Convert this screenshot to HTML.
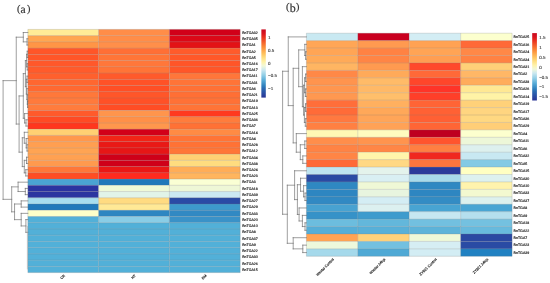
<!DOCTYPE html>
<html><head><meta charset="utf-8"><title>Heatmap</title>
<style>
html,body{margin:0;padding:0;background:#fff;}
body{width:550px;height:283px;overflow:hidden;position:relative;font-family:"Liberation Sans",sans-serif;}
svg{position:absolute;left:0;top:0;display:block;}
svg text{font-family:"Liberation Sans",sans-serif;text-rendering:geometricPrecision;stroke:#222;stroke-width:1.7px;}
svg g.lg text{stroke-width:0.9px;}
svg text.ttl{font-family:"Liberation Serif",serif;stroke:#333;stroke-width:0.18px;}
</style></head><body>
<svg width="550" height="283" viewBox="0 0 550 283">
<defs><linearGradient id="lg" x1="0" y1="0" x2="0" y2="1">
<stop offset="0.000" stop-color="#C90A1F"/>
<stop offset="0.059" stop-color="#D9141F"/>
<stop offset="0.109" stop-color="#E8301F"/>
<stop offset="0.190" stop-color="#F4622C"/>
<stop offset="0.247" stop-color="#FA8636"/>
<stop offset="0.297" stop-color="#FDA247"/>
<stop offset="0.359" stop-color="#FEC35F"/>
<stop offset="0.414" stop-color="#FEDD80"/>
<stop offset="0.476" stop-color="#FFF2A8"/>
<stop offset="0.535" stop-color="#F1F8D8"/>
<stop offset="0.594" stop-color="#CBE8F0"/>
<stop offset="0.673" stop-color="#8FCDE6"/>
<stop offset="0.752" stop-color="#54A9D6"/>
<stop offset="0.829" stop-color="#2F80BD"/>
<stop offset="0.863" stop-color="#2B6CB3"/>
<stop offset="0.932" stop-color="#2A4FA5"/>
<stop offset="1.000" stop-color="#2A3595"/>
</linearGradient></defs>
<rect x="27.85" y="29.40" width="70.78" height="6.24" fill="#FFEC97"/>
<rect x="98.63" y="29.40" width="70.78" height="6.24" fill="#FF8D48"/>
<rect x="169.42" y="29.40" width="70.78" height="6.24" fill="#D10019"/>
<rect x="27.85" y="35.64" width="70.78" height="6.24" fill="#FFA651"/>
<rect x="98.63" y="35.64" width="70.78" height="6.24" fill="#FF8D48"/>
<rect x="169.42" y="35.64" width="70.78" height="6.24" fill="#DC0817"/>
<rect x="27.85" y="41.87" width="70.78" height="6.24" fill="#FF9546"/>
<rect x="98.63" y="41.87" width="70.78" height="6.24" fill="#FF8F4A"/>
<rect x="169.42" y="41.87" width="70.78" height="6.24" fill="#E31216"/>
<rect x="27.85" y="48.11" width="70.78" height="6.24" fill="#FF5628"/>
<rect x="98.63" y="48.11" width="70.78" height="6.24" fill="#FF6F35"/>
<rect x="169.42" y="48.11" width="70.78" height="6.24" fill="#FF5B2B"/>
<rect x="27.85" y="54.34" width="70.78" height="6.24" fill="#FF5628"/>
<rect x="98.63" y="54.34" width="70.78" height="6.24" fill="#FF7537"/>
<rect x="169.42" y="54.34" width="70.78" height="6.24" fill="#FF5829"/>
<rect x="27.85" y="60.58" width="70.78" height="6.24" fill="#FF582A"/>
<rect x="98.63" y="60.58" width="70.78" height="6.24" fill="#FF773A"/>
<rect x="169.42" y="60.58" width="70.78" height="6.24" fill="#FF5528"/>
<rect x="27.85" y="66.82" width="70.78" height="6.24" fill="#FF5B2B"/>
<rect x="98.63" y="66.82" width="70.78" height="6.24" fill="#FF7437"/>
<rect x="169.42" y="66.82" width="70.78" height="6.24" fill="#FF5628"/>
<rect x="27.85" y="73.05" width="70.78" height="6.24" fill="#FF602D"/>
<rect x="98.63" y="73.05" width="70.78" height="6.24" fill="#FF5A2B"/>
<rect x="169.42" y="73.05" width="70.78" height="6.24" fill="#FF763A"/>
<rect x="27.85" y="79.29" width="70.78" height="6.24" fill="#FF6730"/>
<rect x="98.63" y="79.29" width="70.78" height="6.24" fill="#FF5227"/>
<rect x="169.42" y="79.29" width="70.78" height="6.24" fill="#FF7437"/>
<rect x="27.85" y="85.52" width="70.78" height="6.24" fill="#FF6931"/>
<rect x="98.63" y="85.52" width="70.78" height="6.24" fill="#FF4F25"/>
<rect x="169.42" y="85.52" width="70.78" height="6.24" fill="#FF7135"/>
<rect x="27.85" y="91.76" width="70.78" height="6.24" fill="#FF783A"/>
<rect x="98.63" y="91.76" width="70.78" height="6.24" fill="#FF5629"/>
<rect x="169.42" y="91.76" width="70.78" height="6.24" fill="#FF6F35"/>
<rect x="27.85" y="97.99" width="70.78" height="6.24" fill="#FF7A3C"/>
<rect x="98.63" y="97.99" width="70.78" height="6.24" fill="#FF5127"/>
<rect x="169.42" y="97.99" width="70.78" height="6.24" fill="#FF7136"/>
<rect x="27.85" y="104.23" width="70.78" height="6.24" fill="#FF7C3D"/>
<rect x="98.63" y="104.23" width="70.78" height="6.24" fill="#FF4D25"/>
<rect x="169.42" y="104.23" width="70.78" height="6.24" fill="#FF7437"/>
<rect x="27.85" y="110.47" width="70.78" height="6.24" fill="#FF5A2B"/>
<rect x="98.63" y="110.47" width="70.78" height="6.24" fill="#FF954C"/>
<rect x="169.42" y="110.47" width="70.78" height="6.24" fill="#FF391F"/>
<rect x="27.85" y="116.70" width="70.78" height="6.24" fill="#FF4A24"/>
<rect x="98.63" y="116.70" width="70.78" height="6.24" fill="#FF9048"/>
<rect x="169.42" y="116.70" width="70.78" height="6.24" fill="#FF7C3C"/>
<rect x="27.85" y="122.94" width="70.78" height="6.24" fill="#FF361E"/>
<rect x="98.63" y="122.94" width="70.78" height="6.24" fill="#FF974D"/>
<rect x="169.42" y="122.94" width="70.78" height="6.24" fill="#FF7135"/>
<rect x="27.85" y="129.17" width="70.78" height="6.24" fill="#FFD073"/>
<rect x="98.63" y="129.17" width="70.78" height="6.24" fill="#D20019"/>
<rect x="169.42" y="129.17" width="70.78" height="6.24" fill="#FF8B44"/>
<rect x="27.85" y="135.41" width="70.78" height="6.24" fill="#FF984D"/>
<rect x="98.63" y="135.41" width="70.78" height="6.24" fill="#F22416"/>
<rect x="169.42" y="135.41" width="70.78" height="6.24" fill="#FF7436"/>
<rect x="27.85" y="141.65" width="70.78" height="6.24" fill="#FF9F51"/>
<rect x="98.63" y="141.65" width="70.78" height="6.24" fill="#E91916"/>
<rect x="169.42" y="141.65" width="70.78" height="6.24" fill="#FF7235"/>
<rect x="27.85" y="147.88" width="70.78" height="6.24" fill="#FFA453"/>
<rect x="98.63" y="147.88" width="70.78" height="6.24" fill="#E61616"/>
<rect x="169.42" y="147.88" width="70.78" height="6.24" fill="#FF7637"/>
<rect x="27.85" y="154.12" width="70.78" height="6.24" fill="#FFA152"/>
<rect x="98.63" y="154.12" width="70.78" height="6.24" fill="#CE0019"/>
<rect x="169.42" y="154.12" width="70.78" height="6.24" fill="#FFD073"/>
<rect x="27.85" y="160.35" width="70.78" height="6.24" fill="#FF9A4E"/>
<rect x="98.63" y="160.35" width="70.78" height="6.24" fill="#CF0019"/>
<rect x="169.42" y="160.35" width="70.78" height="6.24" fill="#FFDC7F"/>
<rect x="27.85" y="166.59" width="70.78" height="6.24" fill="#FF7739"/>
<rect x="98.63" y="166.59" width="70.78" height="6.24" fill="#EA1816"/>
<rect x="169.42" y="166.59" width="70.78" height="6.24" fill="#FFAD57"/>
<rect x="27.85" y="172.83" width="70.78" height="6.24" fill="#FF4D24"/>
<rect x="98.63" y="172.83" width="70.78" height="6.24" fill="#FF2B1F"/>
<rect x="169.42" y="172.83" width="70.78" height="6.24" fill="#FFB55E"/>
<rect x="27.85" y="179.06" width="70.78" height="6.24" fill="#4AA3D2"/>
<rect x="98.63" y="179.06" width="70.78" height="6.24" fill="#2078BA"/>
<rect x="169.42" y="179.06" width="70.78" height="6.24" fill="#FAFFD4"/>
<rect x="27.85" y="185.30" width="70.78" height="6.24" fill="#2B33A0"/>
<rect x="98.63" y="185.30" width="70.78" height="6.24" fill="#EFF9D6"/>
<rect x="169.42" y="185.30" width="70.78" height="6.24" fill="#EEF7D6"/>
<rect x="27.85" y="191.53" width="70.78" height="6.24" fill="#2B36A0"/>
<rect x="98.63" y="191.53" width="70.78" height="6.24" fill="#E1F4E8"/>
<rect x="169.42" y="191.53" width="70.78" height="6.24" fill="#CBE9F2"/>
<rect x="27.85" y="197.77" width="70.78" height="6.24" fill="#A6DEEF"/>
<rect x="98.63" y="197.77" width="70.78" height="6.24" fill="#FFDB81"/>
<rect x="169.42" y="197.77" width="70.78" height="6.24" fill="#2A4BA5"/>
<rect x="27.85" y="204.01" width="70.78" height="6.24" fill="#207ABB"/>
<rect x="98.63" y="204.01" width="70.78" height="6.24" fill="#FFE996"/>
<rect x="169.42" y="204.01" width="70.78" height="6.24" fill="#3D9ACC"/>
<rect x="27.85" y="210.24" width="70.78" height="6.24" fill="#FDFFC9"/>
<rect x="98.63" y="210.24" width="70.78" height="6.24" fill="#2E86C1"/>
<rect x="169.42" y="210.24" width="70.78" height="6.24" fill="#3189C3"/>
<rect x="27.85" y="216.48" width="70.78" height="6.24" fill="#52B0D8"/>
<rect x="98.63" y="216.48" width="70.78" height="6.24" fill="#8ACDE6"/>
<rect x="169.42" y="216.48" width="70.78" height="6.24" fill="#3A92C8"/>
<rect x="27.85" y="222.71" width="70.78" height="6.24" fill="#52B0D8"/>
<rect x="98.63" y="222.71" width="70.78" height="6.24" fill="#52B0D8"/>
<rect x="169.42" y="222.71" width="70.78" height="6.24" fill="#52B0D8"/>
<rect x="27.85" y="228.95" width="70.78" height="6.24" fill="#52B0D8"/>
<rect x="98.63" y="228.95" width="70.78" height="6.24" fill="#52B0D8"/>
<rect x="169.42" y="228.95" width="70.78" height="6.24" fill="#52B0D8"/>
<rect x="27.85" y="235.18" width="70.78" height="6.24" fill="#52B0D8"/>
<rect x="98.63" y="235.18" width="70.78" height="6.24" fill="#52B0D8"/>
<rect x="169.42" y="235.18" width="70.78" height="6.24" fill="#52B0D8"/>
<rect x="27.85" y="241.42" width="70.78" height="6.24" fill="#52B0D8"/>
<rect x="98.63" y="241.42" width="70.78" height="6.24" fill="#52B0D8"/>
<rect x="169.42" y="241.42" width="70.78" height="6.24" fill="#52B0D8"/>
<rect x="27.85" y="247.66" width="70.78" height="6.24" fill="#52B0D8"/>
<rect x="98.63" y="247.66" width="70.78" height="6.24" fill="#52B0D8"/>
<rect x="169.42" y="247.66" width="70.78" height="6.24" fill="#52B0D8"/>
<rect x="27.85" y="253.89" width="70.78" height="6.24" fill="#52B0D8"/>
<rect x="98.63" y="253.89" width="70.78" height="6.24" fill="#52B0D8"/>
<rect x="169.42" y="253.89" width="70.78" height="6.24" fill="#52B0D8"/>
<rect x="27.85" y="260.13" width="70.78" height="6.24" fill="#52B0D8"/>
<rect x="98.63" y="260.13" width="70.78" height="6.24" fill="#52B0D8"/>
<rect x="169.42" y="260.13" width="70.78" height="6.24" fill="#52B0D8"/>
<rect x="27.85" y="266.36" width="70.78" height="6.24" fill="#52B0D8"/>
<rect x="98.63" y="266.36" width="70.78" height="6.24" fill="#52B0D8"/>
<rect x="169.42" y="266.36" width="70.78" height="6.24" fill="#52B0D8"/>
<path d="M27.85 29.40H240.20M27.85 35.64H240.20M27.85 41.87H240.20M27.85 48.11H240.20M27.85 54.34H240.20M27.85 60.58H240.20M27.85 66.82H240.20M27.85 73.05H240.20M27.85 79.29H240.20M27.85 85.52H240.20M27.85 91.76H240.20M27.85 97.99H240.20M27.85 104.23H240.20M27.85 110.47H240.20M27.85 116.70H240.20M27.85 122.94H240.20M27.85 129.17H240.20M27.85 135.41H240.20M27.85 141.65H240.20M27.85 147.88H240.20M27.85 154.12H240.20M27.85 160.35H240.20M27.85 166.59H240.20M27.85 172.83H240.20M27.85 179.06H240.20M27.85 185.30H240.20M27.85 191.53H240.20M27.85 197.77H240.20M27.85 204.01H240.20M27.85 210.24H240.20M27.85 216.48H240.20M27.85 222.71H240.20M27.85 228.95H240.20M27.85 235.18H240.20M27.85 241.42H240.20M27.85 247.66H240.20M27.85 253.89H240.20M27.85 260.13H240.20M27.85 266.36H240.20M27.85 272.60H240.20M27.85 29.40V272.60M98.63 29.40V272.60M169.42 29.40V272.60M240.20 29.40V272.60" fill="none" stroke="#7d7d7d" stroke-width="0.24"/>
<rect x="306.40" y="33.20" width="51.43" height="7.44" fill="#C9E9F2"/>
<rect x="357.82" y="33.20" width="51.43" height="7.44" fill="#C9001F"/>
<rect x="409.25" y="33.20" width="51.43" height="7.44" fill="#D3EDF4"/>
<rect x="460.68" y="33.20" width="51.43" height="7.44" fill="#FCFFCE"/>
<rect x="306.40" y="40.64" width="51.43" height="7.44" fill="#FFA656"/>
<rect x="357.82" y="40.64" width="51.43" height="7.44" fill="#FF9A50"/>
<rect x="409.25" y="40.64" width="51.43" height="7.44" fill="#FFA253"/>
<rect x="460.68" y="40.64" width="51.43" height="7.44" fill="#FF6938"/>
<rect x="306.40" y="48.07" width="51.43" height="7.44" fill="#FFA555"/>
<rect x="357.82" y="48.07" width="51.43" height="7.44" fill="#FF8243"/>
<rect x="409.25" y="48.07" width="51.43" height="7.44" fill="#FFA455"/>
<rect x="460.68" y="48.07" width="51.43" height="7.44" fill="#FF8847"/>
<rect x="306.40" y="55.51" width="51.43" height="7.44" fill="#FFAA58"/>
<rect x="357.82" y="55.51" width="51.43" height="7.44" fill="#FF8545"/>
<rect x="409.25" y="55.51" width="51.43" height="7.44" fill="#FF9E52"/>
<rect x="460.68" y="55.51" width="51.43" height="7.44" fill="#FF8243"/>
<rect x="306.40" y="62.95" width="51.43" height="7.44" fill="#FFB562"/>
<rect x="357.82" y="62.95" width="51.43" height="7.44" fill="#FF9A50"/>
<rect x="409.25" y="62.95" width="51.43" height="7.44" fill="#FF492B"/>
<rect x="460.68" y="62.95" width="51.43" height="7.44" fill="#FFD078"/>
<rect x="306.40" y="70.38" width="51.43" height="7.44" fill="#FF8847"/>
<rect x="357.82" y="70.38" width="51.43" height="7.44" fill="#FFAA59"/>
<rect x="409.25" y="70.38" width="51.43" height="7.44" fill="#FF6938"/>
<rect x="460.68" y="70.38" width="51.43" height="7.44" fill="#FFB766"/>
<rect x="306.40" y="77.82" width="51.43" height="7.44" fill="#FF944E"/>
<rect x="357.82" y="77.82" width="51.43" height="7.44" fill="#FFBB68"/>
<rect x="409.25" y="77.82" width="51.43" height="7.44" fill="#FF462A"/>
<rect x="460.68" y="77.82" width="51.43" height="7.44" fill="#FFAC5B"/>
<rect x="306.40" y="85.26" width="51.43" height="7.44" fill="#FF964F"/>
<rect x="357.82" y="85.26" width="51.43" height="7.44" fill="#FFB967"/>
<rect x="409.25" y="85.26" width="51.43" height="7.44" fill="#FF3428"/>
<rect x="460.68" y="85.26" width="51.43" height="7.44" fill="#FFE893"/>
<rect x="306.40" y="92.69" width="51.43" height="7.44" fill="#FF9850"/>
<rect x="357.82" y="92.69" width="51.43" height="7.44" fill="#FFBF6B"/>
<rect x="409.25" y="92.69" width="51.43" height="7.44" fill="#FF3F29"/>
<rect x="460.68" y="92.69" width="51.43" height="7.44" fill="#FFF3A6"/>
<rect x="306.40" y="100.13" width="51.43" height="7.44" fill="#FF6E3A"/>
<rect x="357.82" y="100.13" width="51.43" height="7.44" fill="#FFB05F"/>
<rect x="409.25" y="100.13" width="51.43" height="7.44" fill="#FF6435"/>
<rect x="460.68" y="100.13" width="51.43" height="7.44" fill="#FFD179"/>
<rect x="306.40" y="107.57" width="51.43" height="7.44" fill="#FF6B38"/>
<rect x="357.82" y="107.57" width="51.43" height="7.44" fill="#FFA859"/>
<rect x="409.25" y="107.57" width="51.43" height="7.44" fill="#FF6134"/>
<rect x="460.68" y="107.57" width="51.43" height="7.44" fill="#FFD580"/>
<rect x="306.40" y="115.00" width="51.43" height="7.44" fill="#FF7940"/>
<rect x="357.82" y="115.00" width="51.43" height="7.44" fill="#FFA558"/>
<rect x="409.25" y="115.00" width="51.43" height="7.44" fill="#FF6034"/>
<rect x="460.68" y="115.00" width="51.43" height="7.44" fill="#FFD881"/>
<rect x="306.40" y="122.44" width="51.43" height="7.44" fill="#FF8042"/>
<rect x="357.82" y="122.44" width="51.43" height="7.44" fill="#FFA256"/>
<rect x="409.25" y="122.44" width="51.43" height="7.44" fill="#FF6535"/>
<rect x="460.68" y="122.44" width="51.43" height="7.44" fill="#FFCE77"/>
<rect x="306.40" y="129.88" width="51.43" height="7.44" fill="#FFF8B4"/>
<rect x="357.82" y="129.88" width="51.43" height="7.44" fill="#FFFBBF"/>
<rect x="409.25" y="129.88" width="51.43" height="7.44" fill="#BE0020"/>
<rect x="460.68" y="129.88" width="51.43" height="7.44" fill="#FCFFCE"/>
<rect x="306.40" y="137.31" width="51.43" height="7.44" fill="#FF8E4B"/>
<rect x="357.82" y="137.31" width="51.43" height="7.44" fill="#FF944E"/>
<rect x="409.25" y="137.31" width="51.43" height="7.44" fill="#FF542E"/>
<rect x="460.68" y="137.31" width="51.43" height="7.44" fill="#EDF7D8"/>
<rect x="306.40" y="144.75" width="51.43" height="7.44" fill="#FF8344"/>
<rect x="357.82" y="144.75" width="51.43" height="7.44" fill="#FF8646"/>
<rect x="409.25" y="144.75" width="51.43" height="7.44" fill="#FF7F42"/>
<rect x="460.68" y="144.75" width="51.43" height="7.44" fill="#DDF0EE"/>
<rect x="306.40" y="152.19" width="51.43" height="7.44" fill="#FF8545"/>
<rect x="357.82" y="152.19" width="51.43" height="7.44" fill="#FFF4AB"/>
<rect x="409.25" y="152.19" width="51.43" height="7.44" fill="#F0281F"/>
<rect x="460.68" y="152.19" width="51.43" height="7.44" fill="#C8E8F2"/>
<rect x="306.40" y="159.62" width="51.43" height="7.44" fill="#FF6937"/>
<rect x="357.82" y="159.62" width="51.43" height="7.44" fill="#FFD884"/>
<rect x="409.25" y="159.62" width="51.43" height="7.44" fill="#FF753E"/>
<rect x="460.68" y="159.62" width="51.43" height="7.44" fill="#84CAE4"/>
<rect x="306.40" y="167.06" width="51.43" height="7.44" fill="#BFE4F0"/>
<rect x="357.82" y="167.06" width="51.43" height="7.44" fill="#E4F3EC"/>
<rect x="409.25" y="167.06" width="51.43" height="7.44" fill="#2B3B9B"/>
<rect x="460.68" y="167.06" width="51.43" height="7.44" fill="#FFFFC2"/>
<rect x="306.40" y="174.50" width="51.43" height="7.44" fill="#2B4AA3"/>
<rect x="357.82" y="174.50" width="51.43" height="7.44" fill="#D9EFF3"/>
<rect x="409.25" y="174.50" width="51.43" height="7.44" fill="#A8DAEB"/>
<rect x="460.68" y="174.50" width="51.43" height="7.44" fill="#DDF1EF"/>
<rect x="306.40" y="181.93" width="51.43" height="7.44" fill="#2F88C2"/>
<rect x="357.82" y="181.93" width="51.43" height="7.44" fill="#EFF8D6"/>
<rect x="409.25" y="181.93" width="51.43" height="7.44" fill="#2F88C2"/>
<rect x="460.68" y="181.93" width="51.43" height="7.44" fill="#FFF3AD"/>
<rect x="306.40" y="189.37" width="51.43" height="7.44" fill="#2E86C1"/>
<rect x="357.82" y="189.37" width="51.43" height="7.44" fill="#E8F5DF"/>
<rect x="409.25" y="189.37" width="51.43" height="7.44" fill="#2E86C1"/>
<rect x="460.68" y="189.37" width="51.43" height="7.44" fill="#F3F9D0"/>
<rect x="306.40" y="196.81" width="51.43" height="7.44" fill="#3189C3"/>
<rect x="357.82" y="196.81" width="51.43" height="7.44" fill="#D4EDF4"/>
<rect x="409.25" y="196.81" width="51.43" height="7.44" fill="#338CC4"/>
<rect x="460.68" y="196.81" width="51.43" height="7.44" fill="#DDF1EE"/>
<rect x="306.40" y="204.24" width="51.43" height="7.44" fill="#48A2D1"/>
<rect x="357.82" y="204.24" width="51.43" height="7.44" fill="#DCF0F0"/>
<rect x="409.25" y="204.24" width="51.43" height="7.44" fill="#48A4D2"/>
<rect x="460.68" y="204.24" width="51.43" height="7.44" fill="#4AA5D3"/>
<rect x="306.40" y="211.68" width="51.43" height="7.44" fill="#3692C8"/>
<rect x="357.82" y="211.68" width="51.43" height="7.44" fill="#3E9BCD"/>
<rect x="409.25" y="211.68" width="51.43" height="7.44" fill="#C6E7F1"/>
<rect x="460.68" y="211.68" width="51.43" height="7.44" fill="#B5DFEE"/>
<rect x="306.40" y="219.12" width="51.43" height="7.44" fill="#6CBDDE"/>
<rect x="357.82" y="219.12" width="51.43" height="7.44" fill="#63B7DB"/>
<rect x="409.25" y="219.12" width="51.43" height="7.44" fill="#72C0E0"/>
<rect x="460.68" y="219.12" width="51.43" height="7.44" fill="#74C1E0"/>
<rect x="306.40" y="226.55" width="51.43" height="7.44" fill="#55AED7"/>
<rect x="357.82" y="226.55" width="51.43" height="7.44" fill="#58B0D8"/>
<rect x="409.25" y="226.55" width="51.43" height="7.44" fill="#5DB3D9"/>
<rect x="460.68" y="226.55" width="51.43" height="7.44" fill="#68BADD"/>
<rect x="306.40" y="233.99" width="51.43" height="7.44" fill="#FFA354"/>
<rect x="357.82" y="233.99" width="51.43" height="7.44" fill="#FFD27B"/>
<rect x="409.25" y="233.99" width="51.43" height="7.44" fill="#EEF8D8"/>
<rect x="460.68" y="233.99" width="51.43" height="7.44" fill="#2A48A2"/>
<rect x="306.40" y="241.43" width="51.43" height="7.44" fill="#EDF8DC"/>
<rect x="357.82" y="241.43" width="51.43" height="7.44" fill="#73C0E0"/>
<rect x="409.25" y="241.43" width="51.43" height="7.44" fill="#D6EEF3"/>
<rect x="460.68" y="241.43" width="51.43" height="7.44" fill="#2A4BA4"/>
<rect x="306.40" y="248.86" width="51.43" height="7.44" fill="#A5D9EB"/>
<rect x="357.82" y="248.86" width="51.43" height="7.44" fill="#4FA9D5"/>
<rect x="409.25" y="248.86" width="51.43" height="7.44" fill="#D3EDF4"/>
<rect x="460.68" y="248.86" width="51.43" height="7.44" fill="#2081C2"/>
<path d="M306.40 33.20H512.10M306.40 40.64H512.10M306.40 48.07H512.10M306.40 55.51H512.10M306.40 62.95H512.10M306.40 70.38H512.10M306.40 77.82H512.10M306.40 85.26H512.10M306.40 92.69H512.10M306.40 100.13H512.10M306.40 107.57H512.10M306.40 115.00H512.10M306.40 122.44H512.10M306.40 129.88H512.10M306.40 137.31H512.10M306.40 144.75H512.10M306.40 152.19H512.10M306.40 159.62H512.10M306.40 167.06H512.10M306.40 174.50H512.10M306.40 181.93H512.10M306.40 189.37H512.10M306.40 196.81H512.10M306.40 204.24H512.10M306.40 211.68H512.10M306.40 219.12H512.10M306.40 226.55H512.10M306.40 233.99H512.10M306.40 241.43H512.10M306.40 248.86H512.10M306.40 256.30H512.10M306.40 33.20V256.30M357.82 33.20V256.30M409.25 33.20V256.30M460.68 33.20V256.30M512.10 33.20V256.30" fill="none" stroke="#7d7d7d" stroke-width="0.24"/>
<path d="M27.00 38.75L27.85 38.75M27.00 44.99L27.85 44.99M27.00 38.75L27.00 44.99M23.30 32.52L27.85 32.52M23.30 41.87L27.00 41.87M23.30 32.52L23.30 41.87M27.20 51.23L27.85 51.23M27.20 57.46L27.85 57.46M27.20 51.23L27.20 57.46M27.20 63.70L27.85 63.70M27.20 69.93L27.85 69.93M27.20 63.70L27.20 69.93M26.60 54.34L27.20 54.34M26.60 66.82L27.20 66.82M26.60 54.34L26.60 66.82M27.00 76.17L27.85 76.17M27.00 82.41L27.85 82.41M27.00 76.17L27.00 82.41M27.50 101.11L27.85 101.11M27.50 107.35L27.85 107.35M27.50 101.11L27.50 107.35M27.30 94.88L27.85 94.88M27.30 104.23L27.50 104.23M27.30 94.88L27.30 104.23M26.90 88.64L27.85 88.64M26.90 99.55L27.30 99.55M26.90 88.64L26.90 99.55M26.30 79.29L27.00 79.29M26.30 94.10L26.90 94.10M26.30 79.29L26.30 94.10M25.40 60.58L26.60 60.58M25.40 86.69L26.30 86.69M25.40 60.58L25.40 86.69M26.00 119.82L27.85 119.82M26.00 126.06L27.85 126.06M26.00 119.82L26.00 126.06M24.60 113.58L27.85 113.58M24.60 122.94L26.00 122.94M24.60 113.58L24.60 122.94M23.30 73.64L25.40 73.64M23.30 118.26L24.60 118.26M23.30 73.64L23.30 118.26M27.00 144.76L27.85 144.76M27.00 151.00L27.85 151.00M27.00 144.76L27.00 151.00M26.20 138.53L27.85 138.53M26.20 147.88L27.00 147.88M26.20 138.53L26.20 147.88M24.30 132.29L27.85 132.29M24.30 143.21L26.20 143.21M24.30 132.29L24.30 143.21M26.50 157.24L27.85 157.24M26.50 163.47L27.85 163.47M26.50 157.24L26.50 163.47M25.80 169.71L27.85 169.71M25.80 175.94L27.85 175.94M25.80 169.71L25.80 175.94M24.30 160.35L26.50 160.35M24.30 172.83L25.80 172.83M24.30 160.35L24.30 172.83M22.30 137.75L24.30 137.75M22.30 166.59L24.30 166.59M22.30 137.75L22.30 166.59M19.10 95.95L23.30 95.95M19.10 152.17L22.30 152.17M19.10 95.95L19.10 152.17M16.25 37.19L23.30 37.19M16.25 124.06L19.10 124.06M16.25 37.19L16.25 124.06M25.30 188.42L27.85 188.42M25.30 194.65L27.85 194.65M25.30 188.42L25.30 194.65M18.10 182.18L27.85 182.18M18.10 191.53L25.30 191.53M18.10 182.18L18.10 191.53M21.20 200.89L27.85 200.89M21.20 207.12L27.85 207.12M21.20 200.89L21.20 207.12M25.90 219.59L27.85 219.59M25.90 232.30L27.85 232.30M25.90 219.59L25.90 232.30M21.20 213.36L27.85 213.36M21.20 225.95L25.90 225.95M21.20 213.36L21.20 225.95M14.55 204.01L21.20 204.01M14.55 219.65L21.20 219.65M14.55 204.01L14.55 219.65M11.70 186.86L18.10 186.86M11.70 211.83L14.55 211.83M11.70 186.86L11.70 211.83M3.10 80.63L16.25 80.63M3.10 199.34L11.70 199.34M3.10 80.63L3.10 199.34" fill="none" stroke="#6a6a6a" stroke-width="0.65" stroke-linecap="square"/>
<path d="M27.35 226.1V269.4" fill="none" stroke="#9a9a9a" stroke-width="0.5"/>
<path d="M305.60 51.79L306.40 51.79M305.60 59.23L306.40 59.23M305.60 51.79L305.60 59.23M304.80 44.36L306.40 44.36M304.80 55.51L305.60 55.51M304.80 44.36L304.80 55.51M305.60 74.10L306.40 74.10M305.60 81.54L306.40 81.54M305.60 74.10L305.60 81.54M305.40 88.98L306.40 88.98M305.40 96.41L306.40 96.41M305.40 88.98L305.40 96.41M304.60 77.82L305.60 77.82M304.60 92.69L305.40 92.69M304.60 77.82L304.60 92.69M305.50 103.85L306.40 103.85M305.50 111.29L306.40 111.29M305.50 103.85L305.50 111.29M305.30 118.72L306.40 118.72M305.30 126.16L306.40 126.16M305.30 118.72L305.30 126.16M304.40 107.57L305.50 107.57M304.40 122.44L305.30 122.44M304.40 107.57L304.40 122.44M303.60 85.26L304.60 85.26M303.60 115.00L304.40 115.00M303.60 85.26L303.60 115.00M302.40 66.67L306.40 66.67M302.40 106.70L303.60 106.70M302.40 66.67L302.40 106.70M298.70 49.93L304.80 49.93M298.70 86.68L302.40 86.68M298.70 49.93L298.70 86.68M304.80 141.03L306.40 141.03M304.80 148.47L306.40 148.47M304.80 141.03L304.80 148.47M302.80 155.91L306.40 155.91M302.80 163.34L306.40 163.34M302.80 155.91L302.80 163.34M300.30 144.75L304.80 144.75M300.30 159.62L302.80 159.62M300.30 144.75L300.30 159.62M296.30 133.60L306.40 133.60M296.30 152.19L300.30 152.19M296.30 133.60L296.30 152.19M293.20 68.31L298.70 68.31M293.20 142.89L296.30 142.89M293.20 68.31L293.20 142.89M288.25 36.92L306.40 36.92M288.25 105.60L293.20 105.60M288.25 36.92L288.25 105.60M305.00 193.09L306.40 193.09M305.00 200.53L306.40 200.53M305.00 193.09L305.00 200.53M303.60 185.65L306.40 185.65M303.60 196.81L305.00 196.81M303.60 185.65L303.60 196.81M300.55 178.22L306.40 178.22M300.55 191.23L303.60 191.23M300.55 178.22L300.55 191.23M305.00 222.84L306.40 222.84M305.00 230.27L306.40 230.27M305.00 222.84L305.00 230.27M302.40 215.40L306.40 215.40M302.40 226.55L305.00 226.55M302.40 215.40L302.40 226.55M299.10 207.96L306.40 207.96M299.10 220.98L302.40 220.98M299.10 207.96L299.10 220.98M297.40 184.72L300.55 184.72M297.40 214.47L299.10 214.47M297.40 184.72L297.40 214.47M294.60 170.78L306.40 170.78M294.60 199.60L297.40 199.60M294.60 170.78L294.60 199.60M302.80 245.15L306.40 245.15M302.80 252.58L306.40 252.58M302.80 245.15L302.80 252.58M293.20 237.71L306.40 237.71M293.20 248.86L302.80 248.86M293.20 237.71L293.20 248.86M287.30 185.19L294.60 185.19M287.30 243.29L293.20 243.29M287.30 185.19L287.30 243.29M282.60 71.26L288.25 71.26M282.60 214.24L287.30 214.24M282.60 71.26L282.60 214.24" fill="none" stroke="#6a6a6a" stroke-width="0.65" stroke-linecap="square"/>
<g class="t" font-size="35.6" fill="#2c2c2c">
<text transform="translate(242.2 33.80) scale(0.1)">BnTGA32</text>
<text transform="translate(242.2 40.04) scale(0.1)">BnTGA35</text>
<text transform="translate(242.2 46.27) scale(0.1)">BnTGA1</text>
<text transform="translate(242.2 52.51) scale(0.1)">BnTGA2</text>
<text transform="translate(242.2 58.74) scale(0.1)">BnTGA5</text>
<text transform="translate(242.2 64.98) scale(0.1)">BnTGA16</text>
<text transform="translate(242.2 71.21) scale(0.1)">BnTGA17</text>
<text transform="translate(242.2 77.45) scale(0.1)">BnTGA11</text>
<text transform="translate(242.2 83.69) scale(0.1)">BnTGA31</text>
<text transform="translate(242.2 89.92) scale(0.1)">BnTGA6</text>
<text transform="translate(242.2 96.16) scale(0.1)">BnTGA21</text>
<text transform="translate(242.2 102.39) scale(0.1)">BnTGA19</text>
<text transform="translate(242.2 108.63) scale(0.1)">BnTGA13</text>
<text transform="translate(242.2 114.87) scale(0.1)">BnTGA25</text>
<text transform="translate(242.2 121.10) scale(0.1)">BnTGA36</text>
<text transform="translate(242.2 127.34) scale(0.1)">BnTGA7</text>
<text transform="translate(242.2 133.57) scale(0.1)">BnTGA14</text>
<text transform="translate(242.2 139.81) scale(0.1)">BnTGA4</text>
<text transform="translate(242.2 146.05) scale(0.1)">BnTGA28</text>
<text transform="translate(242.2 152.28) scale(0.1)">BnTGA12</text>
<text transform="translate(242.2 158.52) scale(0.1)">BnTGA34</text>
<text transform="translate(242.2 164.75) scale(0.1)">BnTGA38</text>
<text transform="translate(242.2 170.99) scale(0.1)">BnTGA24</text>
<text transform="translate(242.2 177.23) scale(0.1)">BnTGA23</text>
<text transform="translate(242.2 183.46) scale(0.1)">BnTGA3</text>
<text transform="translate(242.2 189.70) scale(0.1)">BnTGA18</text>
<text transform="translate(242.2 195.93) scale(0.1)">BnTGA39</text>
<text transform="translate(242.2 202.17) scale(0.1)">BnTGA27</text>
<text transform="translate(242.2 208.40) scale(0.1)">BnTGA29</text>
<text transform="translate(242.2 214.64) scale(0.1)">BnTGA33</text>
<text transform="translate(242.2 220.88) scale(0.1)">BnTGA20</text>
<text transform="translate(242.2 227.11) scale(0.1)">BnTGA10</text>
<text transform="translate(242.2 233.35) scale(0.1)">BnTGA8</text>
<text transform="translate(242.2 239.58) scale(0.1)">BnTGA37</text>
<text transform="translate(242.2 245.82) scale(0.1)">BnTGA9</text>
<text transform="translate(242.2 252.06) scale(0.1)">BnTGA22</text>
<text transform="translate(242.2 258.29) scale(0.1)">BnTGA30</text>
<text transform="translate(242.2 264.53) scale(0.1)">BnTGA26</text>
<text transform="translate(242.2 270.76) scale(0.1)">BnTGA15</text>
</g>
<g class="t" font-size="35.6" fill="#2c2c2c">
<text transform="translate(513.6 38.20) scale(0.1)">BnTGA25</text>
<text transform="translate(513.6 45.64) scale(0.1)">BnTGA16</text>
<text transform="translate(513.6 53.07) scale(0.1)">BnTGA24</text>
<text transform="translate(513.6 60.51) scale(0.1)">BnTGA34</text>
<text transform="translate(513.6 67.95) scale(0.1)">BnTGA31</text>
<text transform="translate(513.6 75.38) scale(0.1)">BnTGA2</text>
<text transform="translate(513.6 82.82) scale(0.1)">BnTGA38</text>
<text transform="translate(513.6 90.26) scale(0.1)">BnTGA26</text>
<text transform="translate(513.6 97.69) scale(0.1)">BnTGA14</text>
<text transform="translate(513.6 105.13) scale(0.1)">BnTGA19</text>
<text transform="translate(513.6 112.57) scale(0.1)">BnTGA17</text>
<text transform="translate(513.6 120.00) scale(0.1)">BnTGA36</text>
<text transform="translate(513.6 127.44) scale(0.1)">BnTGA29</text>
<text transform="translate(513.6 134.88) scale(0.1)">BnTGA4</text>
<text transform="translate(513.6 142.31) scale(0.1)">BnTGA11</text>
<text transform="translate(513.6 149.75) scale(0.1)">BnTGA6</text>
<text transform="translate(513.6 157.19) scale(0.1)">BnTGA32</text>
<text transform="translate(513.6 164.62) scale(0.1)">BnTGA5</text>
<text transform="translate(513.6 172.06) scale(0.1)">BnTGA15</text>
<text transform="translate(513.6 179.50) scale(0.1)">BnTGA30</text>
<text transform="translate(513.6 186.93) scale(0.1)">BnTGA10</text>
<text transform="translate(513.6 194.37) scale(0.1)">BnTGA33</text>
<text transform="translate(513.6 201.81) scale(0.1)">BnTGA37</text>
<text transform="translate(513.6 209.24) scale(0.1)">BnTGA8</text>
<text transform="translate(513.6 216.68) scale(0.1)">BnTGA9</text>
<text transform="translate(513.6 224.12) scale(0.1)">BnTGA18</text>
<text transform="translate(513.6 231.55) scale(0.1)">BnTGA22</text>
<text transform="translate(513.6 238.99) scale(0.1)">BnTGA7</text>
<text transform="translate(513.6 246.43) scale(0.1)">BnTGA23</text>
<text transform="translate(513.6 253.86) scale(0.1)">BnTGA39</text>
</g>
<g class="t" font-size="35.6" fill="#2c2c2c" text-anchor="end">
<text transform="translate(63.49 274.10) rotate(-45) scale(0.1)" x="0" y="25.63">CR</text>
<text transform="translate(134.28 274.10) rotate(-45) scale(0.1)" x="0" y="25.63">HT</text>
<text transform="translate(205.06 274.10) rotate(-45) scale(0.1)" x="0" y="25.63">SM</text>
</g>
<g class="t" font-size="35.6" fill="#2c2c2c" text-anchor="end">
<text transform="translate(332.36 257.80) rotate(-45) scale(0.1)" x="0" y="25.63">Westar Control</text>
<text transform="translate(383.79 257.80) rotate(-45) scale(0.1)" x="0" y="25.63">Westar 24hpi</text>
<text transform="translate(435.21 257.80) rotate(-45) scale(0.1)" x="0" y="25.63">ZY821 Control</text>
<text transform="translate(486.64 257.80) rotate(-45) scale(0.1)" x="0" y="25.63">ZY821 24hpi</text>
</g>
<rect x="261.35" y="29.4" width="4.45" height="68.19999999999999" fill="url(#lg)"/>
<g class="t lg" font-size="45.0" fill="#2c2c2c">
<text transform="translate(268.10 38.62) scale(0.1)">1</text>
<text transform="translate(268.10 51.62) scale(0.1)">0.5</text>
<text transform="translate(268.10 64.52) scale(0.1)">0</text>
<text transform="translate(268.10 77.42) scale(0.1)">−0.5</text>
<text transform="translate(268.10 90.22) scale(0.1)">−1</text>
</g>
<rect x="532.2" y="33.1" width="4.7" height="67.4" fill="url(#lg)"/>
<g class="t lg" font-size="45.0" fill="#2c2c2c">
<text transform="translate(539.20 38.82) scale(0.1)">1.5</text>
<text transform="translate(539.20 48.82) scale(0.1)">1</text>
<text transform="translate(539.20 58.72) scale(0.1)">0.5</text>
<text transform="translate(539.20 68.62) scale(0.1)">0</text>
<text transform="translate(539.20 78.62) scale(0.1)">−0.5</text>
<text transform="translate(539.20 88.42) scale(0.1)">−1</text>
<text transform="translate(539.20 98.32) scale(0.1)">−1.5</text>
</g>
<text class="ttl" font-size="11.5" fill="#333"><tspan x="16.9" y="11.9" font-size="10.3">(</tspan><tspan x="20.4" y="12.7">a</tspan><tspan x="27.0" y="11.9" font-size="10.3">)</tspan></text>
<text class="ttl" font-size="12" fill="#333"><tspan x="286.0" y="10.0" font-size="10.3">(</tspan><tspan x="289.7" y="11.8">b</tspan><tspan x="296.1" y="10.0" font-size="10.3">)</tspan></text>
</svg>
</body></html>
